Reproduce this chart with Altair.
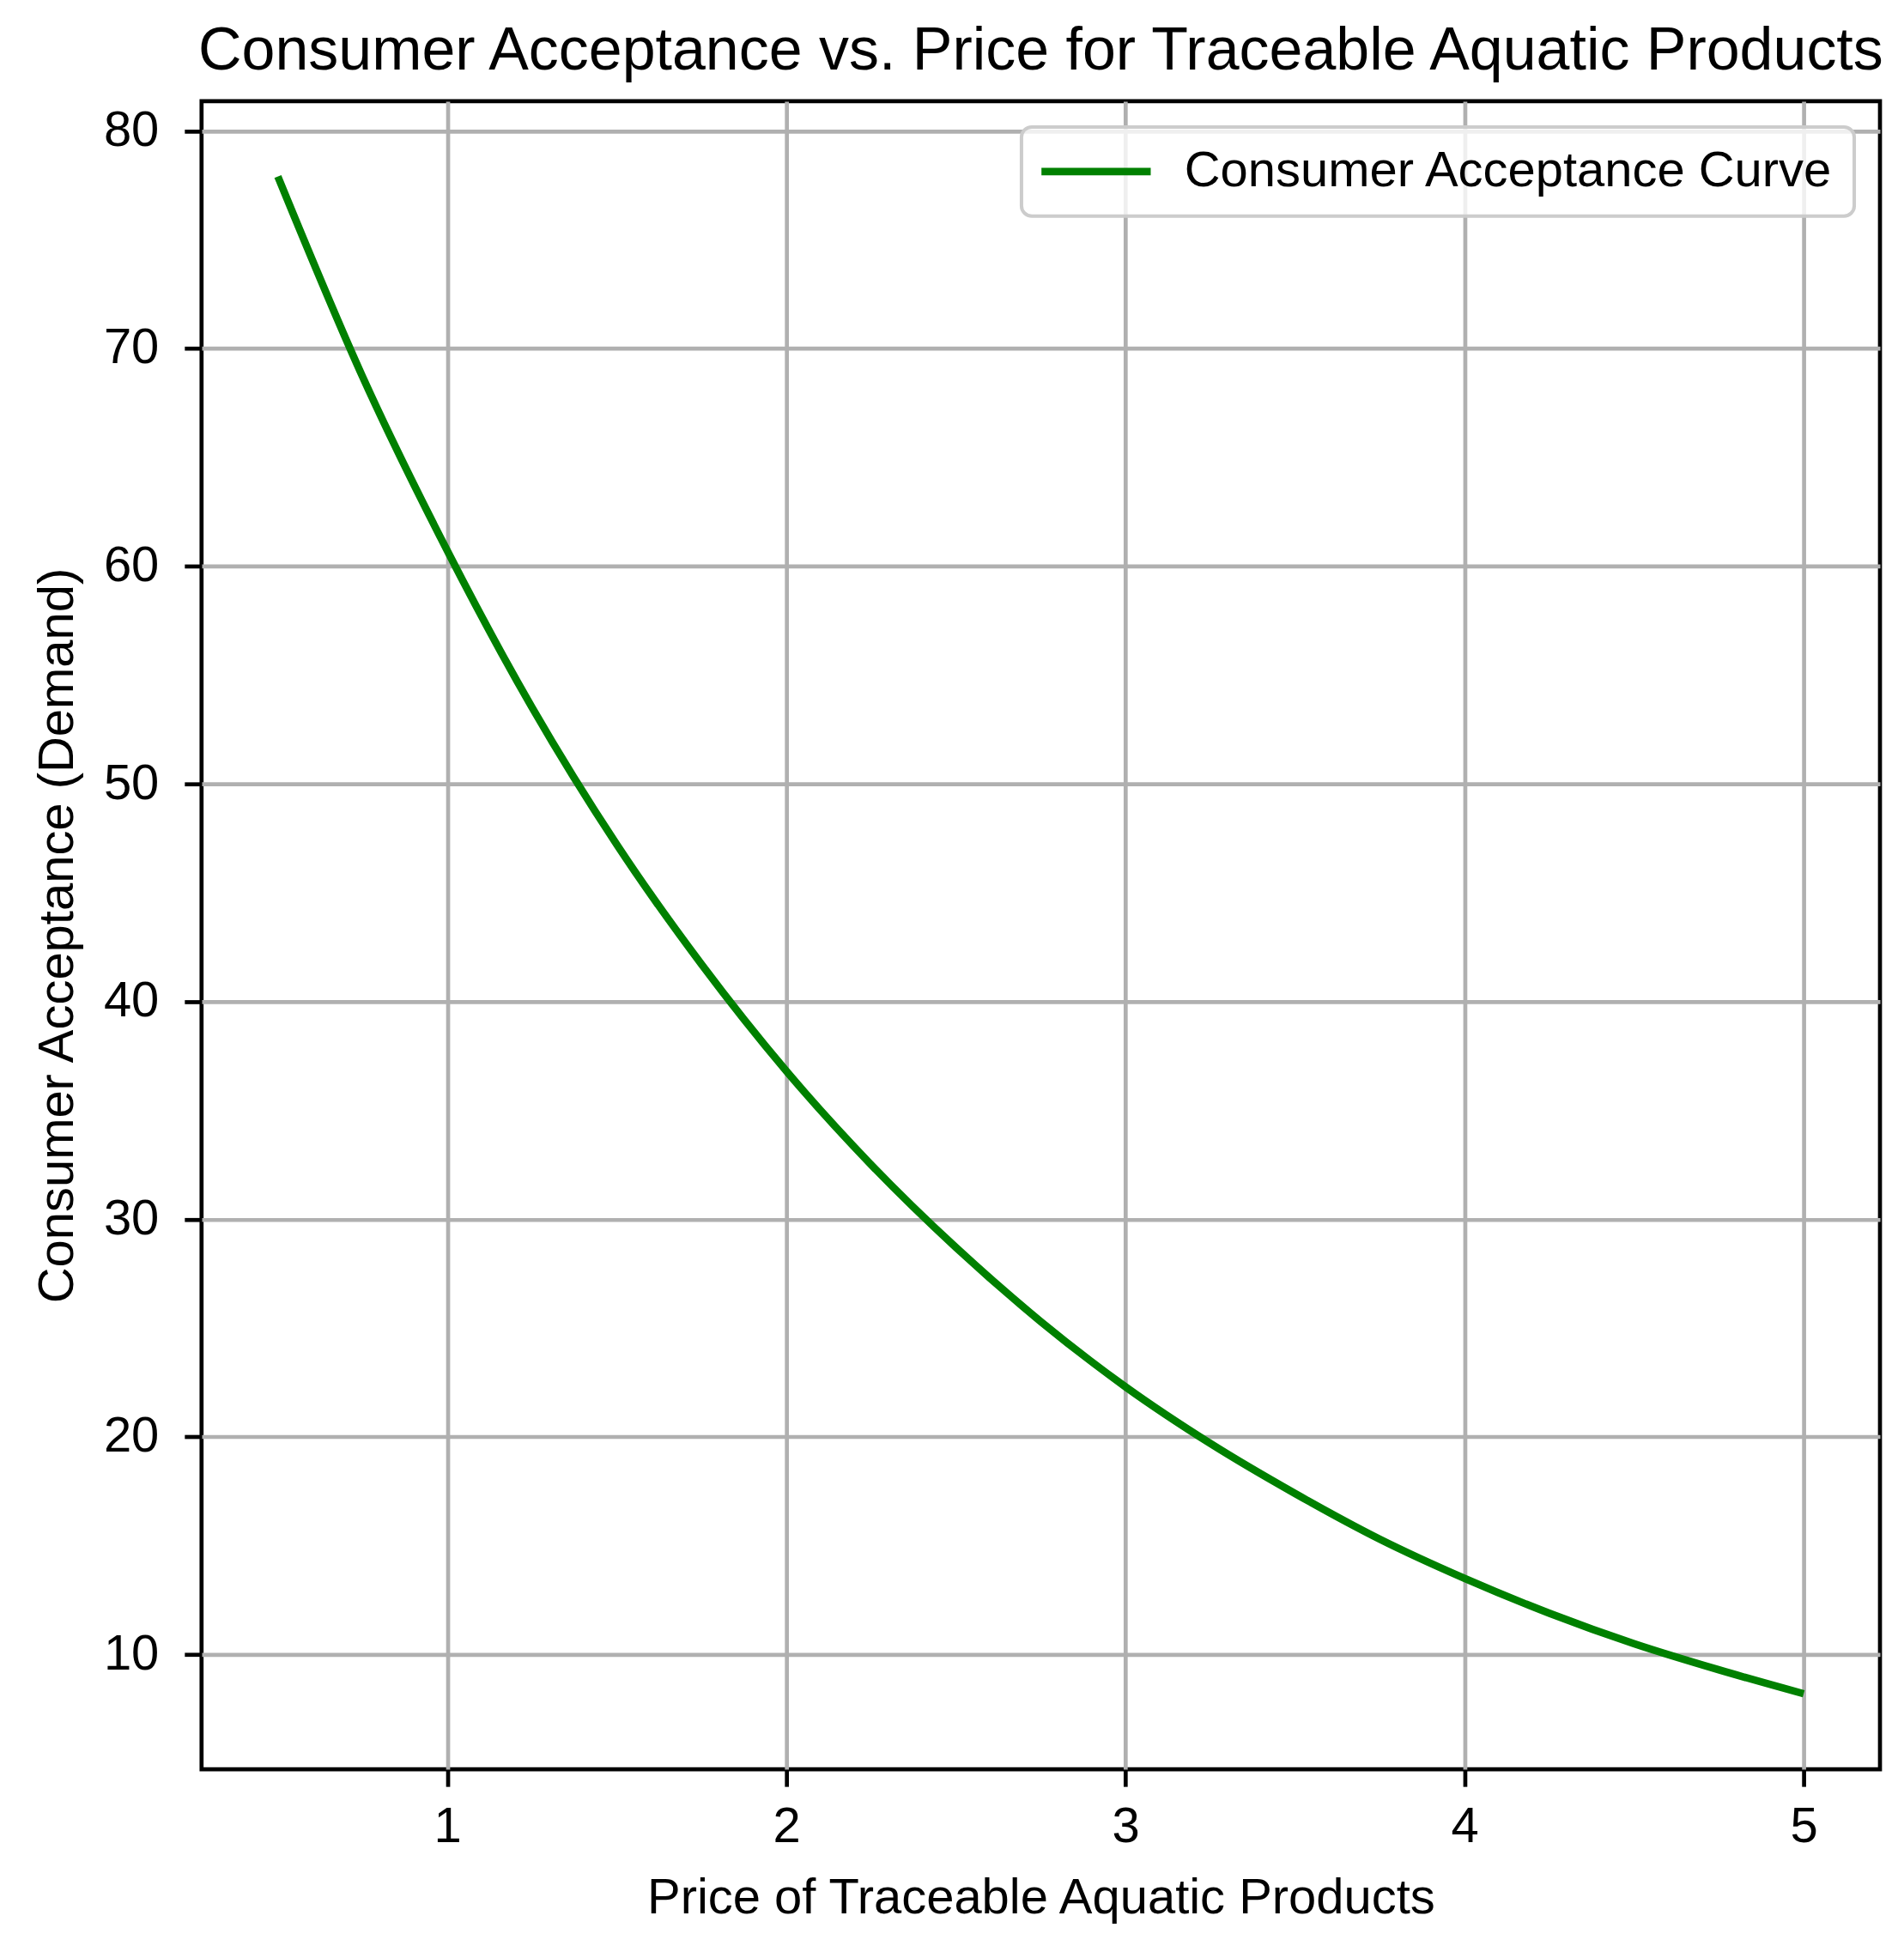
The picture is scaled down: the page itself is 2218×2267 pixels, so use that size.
import altair as alt
import pandas as pd

# Values
price = [0.5, 0.75, 1.0, 1.25, 1.5, 1.75, 2.0, 2.25, 2.5, 2.75, 3.0,
         3.25, 3.5, 3.75, 4.0, 4.25, 4.5, 4.75, 5.0]
acceptance = [77.9, 68.7, 60.7, 53.5, 47.2, 41.7, 36.8, 32.5, 28.7, 25.3, 22.3,
              19.7, 17.4, 15.3, 13.5, 11.9, 10.5, 9.3, 8.2]
series_name = "Consumer Acceptance Curve"
x_ticks = [1, 2, 3, 4, 5]
y_ticks = [10, 20, 30, 40, 50, 60, 70, 80]

df = pd.DataFrame({"price": price, "acceptance": acceptance, "series": series_name})

FONT = "Liberation Sans, Arial, Helvetica, sans-serif"

line = alt.Chart(df).mark_line(strokeWidth=8.7, interpolate="monotone").encode(
    x=alt.X("price:Q",
            scale=alt.Scale(domain=[0.275, 5.225], nice=False, zero=False),
            axis=alt.Axis(values=x_ticks, format="d", title="Price of Traceable Aquatic Products",
                          labelPadding=18, titlePadding=25, labelFlush=False)),
    y=alt.Y("acceptance:Q",
            scale=alt.Scale(domain=[4.73, 81.36], nice=False, zero=False),
            axis=alt.Axis(values=y_ticks, format="d", title="Consumer Acceptance (Demand)",
                          labelPadding=30, titlePadding=24)),
    color=alt.Color("series:N",
                    scale=alt.Scale(domain=[series_name], range=["#008000"]),
                    legend=alt.Legend(title=None, orient="top-right", offset=30,
                                      symbolType="M-2.6,0H2.6", symbolSize=2401,
                                      symbolStrokeWidth=8.7, symbolOffset=35,
                                      labelOffset=74, padding=23,
                                      labelFontSize=58, labelFont=FONT, labelColor="black",
                                      labelLimit=2000,
                                      fillColor="rgba(255,255,255,0.8)", strokeColor="#cccccc",
                                      cornerRadius=12)),
)

chart = line.properties(
    width=1957,
    height=1945,
    title=alt.TitleParams("Consumer Acceptance vs. Price for Traceable Aquatic Products",
                          fontSize=70, font=FONT, fontWeight="normal", color="black",
                          anchor="middle", frame="group", offset=22),
    autosize=alt.AutoSizeParams(type="none"),
    padding={"left": 227, "top": 109, "right": 20, "bottom": 195},
).configure_view(
    stroke="black", strokeWidth=4.7
).configure_axis(
    labelFont=FONT, labelFontSize=58, labelColor="black",
    titleFont=FONT, titleFontSize=58, titleFontWeight="normal", titleColor="black",
    tickSize=20, tickWidth=4.7, tickColor="black",
    domain=False, grid=True, gridColor="#b0b0b0", gridWidth=4.7,
    labelOverlap=False,
).configure_legend(
    strokeWidth=4,
)

chart.save("out.html", embed_options={"renderer": "svg", "actions": False})
